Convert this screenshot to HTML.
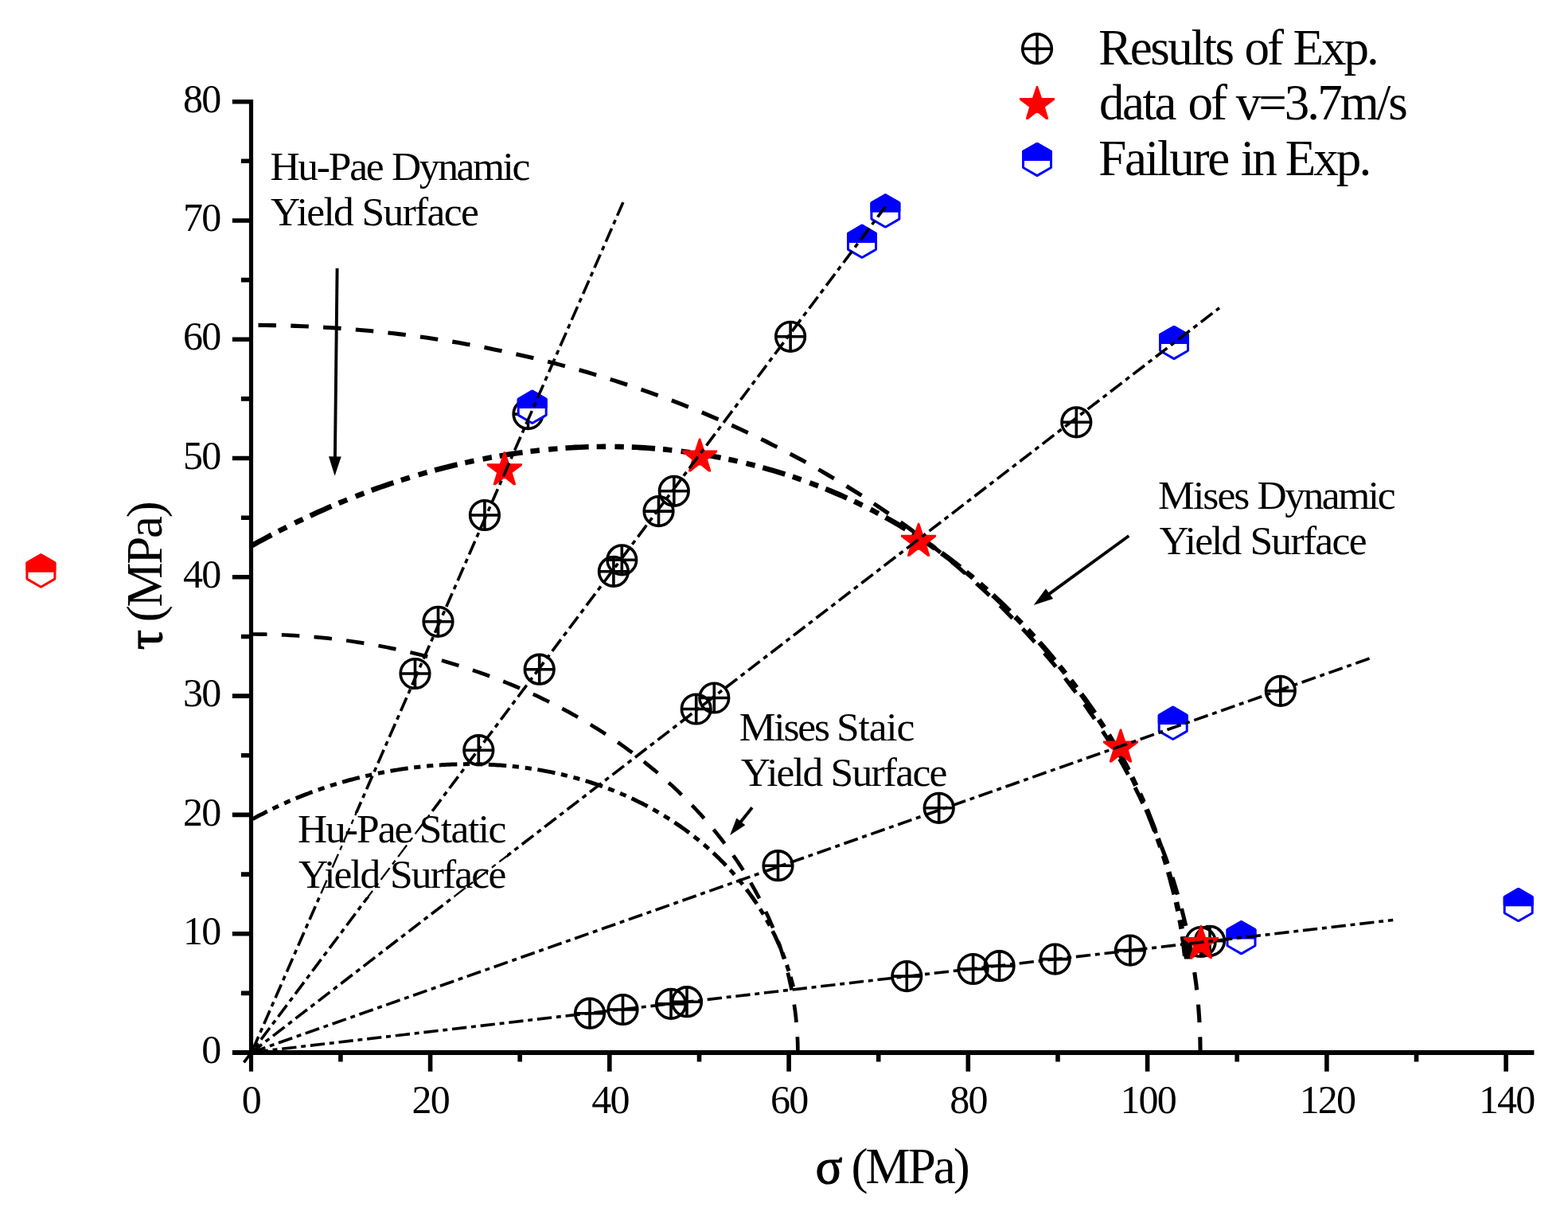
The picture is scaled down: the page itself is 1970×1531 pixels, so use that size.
<!DOCTYPE html>
<html lang="en"><head><meta charset="utf-8"><title>Yield surfaces</title>
<style>html,body{margin:0;padding:0;background:#fff;overflow:hidden}svg{display:block}text{font-family:"Liberation Serif","DejaVu Serif",serif;fill:#000}</style></head><body>
<svg width="1970" height="1531" viewBox="0 0 1970 1531" role="img" aria-label="Yield surfaces in the sigma-tau plane">
<rect width="1970" height="1531" fill="#fff"/>
<g fill="none" stroke="#000">
<path d="M315.3,408.3 L324.7,408.4 L334.0,408.5 L343.4,408.6 L352.8,408.8 L362.1,409.0 L371.5,409.4 L380.8,409.7 L390.2,410.1 L399.5,410.6 L408.9,411.2 L418.2,411.8 L427.5,412.4 L436.9,413.1 L446.2,413.9 L455.5,414.7 L464.8,415.5 L474.1,416.5 L483.4,417.5 L492.6,418.5 L501.9,419.6 L511.1,420.7 L520.4,422.0 L529.6,423.2 L538.8,424.5 L548.0,425.9 L557.2,427.3 L566.3,428.8 L575.5,430.3 L584.6,431.9 L593.7,433.6 L602.8,435.3 L611.9,437.0 L621.0,438.9 L630.0,440.7 L639.1,442.6 L648.1,444.6 L657.1,446.7 L666.0,448.7 L675.0,450.9 L683.9,453.1 L692.8,455.3 L701.7,457.6 L710.5,460.0 L719.3,462.4 L728.1,464.8 L736.9,467.3 L745.7,469.9 L754.4,472.5 L763.1,475.2 L771.7,477.9 L780.4,480.7 L789.0,483.5 L797.6,486.4 L806.1,489.3 L814.7,492.3 L823.1,495.3 L831.6,498.4 L840.0,501.5 L848.4,504.7 L856.8,507.9 L865.1,511.2 L873.4,514.5 L881.7,517.9 L889.9,521.4 L898.1,524.8 L906.3,528.4 L914.4,532.0 L922.5,535.6 L930.5,539.3 L938.5,543.0 L946.5,546.8 L954.4,550.6 L962.3,554.4 L970.1,558.4 L978.0,562.3 L985.7,566.3 L993.5,570.4 L1001.1,574.5 L1008.8,578.6 L1016.4,582.8 L1023.9,587.1 L1031.5,591.4 L1038.9,595.7 L1046.3,600.1 L1053.7,604.5 L1061.1,609.0 L1068.3,613.5 L1075.6,618.0 L1082.8,622.6 L1089.9,627.3 L1097.0,631.9 L1104.1,636.7 L1111.1,641.4 L1118.0,646.2 L1124.9,651.1 L1131.8,656.0 L1138.6,660.9 L1145.4,665.9 L1152.1,670.9 L1158.7,675.9 L1165.3,681.0 L1171.8,686.2 L1178.3,691.3 L1184.8,696.6 L1191.2,701.8 L1197.5,707.1 L1203.8,712.4 L1210.0,717.8 L1216.2,723.2 L1222.3,728.6 L1228.3,734.1 L1234.3,739.6 L1240.3,745.2 L1246.2,750.7 L1252.0,756.4 L1257.8,762.0 L1263.5,767.7 L1269.1,773.4 L1274.7,779.2 L1280.3,785.0 L1285.7,790.8 L1291.1,796.6 L1296.5,802.5 L1301.8,808.4 L1307.0,814.4 L1312.2,820.4 L1317.3,826.4 L1322.4,832.4 L1327.4,838.5 L1332.3,844.6 L1337.2,850.7 L1342.0,856.9 L1346.7,863.1 L1351.4,869.3 L1356.0,875.6 L1360.5,881.8 L1365.0,888.1 L1369.4,894.5 L1373.8,900.8 L1378.0,907.2 L1382.3,913.6 L1386.4,920.0 L1390.5,926.5 L1394.5,933.0 L1398.5,939.5 L1402.4,946.0 L1406.2,952.6 L1410.0,959.1 L1413.6,965.7 L1417.3,972.4 L1420.8,979.0 L1424.3,985.7 L1427.7,992.3 L1431.1,999.0 L1434.3,1005.8 L1437.5,1012.5 L1440.7,1019.3 L1443.7,1026.1 L1446.7,1032.8 L1449.7,1039.7 L1452.5,1046.5 L1455.3,1053.3 L1458.0,1060.2 L1460.7,1067.1 L1463.3,1074.0 L1465.8,1080.9 L1468.2,1087.8 L1470.6,1094.8 L1472.9,1101.7 L1475.1,1108.7 L1477.2,1115.7 L1479.3,1122.7 L1481.3,1129.7 L1483.3,1136.7 L1485.1,1143.8 L1486.9,1150.8 L1488.6,1157.9 L1490.3,1164.9 L1491.9,1172.0 L1493.4,1179.1 L1494.8,1186.2 L1496.2,1193.3 L1497.4,1200.4 L1498.6,1207.5 L1499.8,1214.6 L1500.8,1221.7 L1501.8,1228.9 L1502.8,1236.0 L1503.6,1243.2 L1504.4,1250.3 L1505.1,1257.5 L1505.7,1264.6 L1506.2,1271.8 L1506.7,1279.0 L1507.1,1286.1 L1507.5,1293.3 L1507.7,1300.5 L1507.9,1307.6 L1508.0,1314.8 L1508.1,1322.0" stroke-width="5.1" stroke-dasharray="22.5 18.32" stroke-dashoffset="31.6"/>
<path d="M315.3,796.5 L320.7,796.5 L326.1,796.6 L331.5,796.6 L336.9,796.8 L342.3,796.9 L347.7,797.1 L353.1,797.3 L358.4,797.5 L363.8,797.8 L369.2,798.1 L374.6,798.5 L380.0,798.8 L385.3,799.2 L390.7,799.7 L396.1,800.1 L401.4,800.6 L406.8,801.2 L412.1,801.7 L417.4,802.3 L422.8,803.0 L428.1,803.6 L433.4,804.3 L438.7,805.0 L444.0,805.8 L449.3,806.6 L454.6,807.4 L459.9,808.3 L465.2,809.2 L470.4,810.1 L475.7,811.0 L480.9,812.0 L486.2,813.0 L491.4,814.1 L496.6,815.1 L501.8,816.2 L507.0,817.4 L512.2,818.5 L517.3,819.7 L522.5,821.0 L527.6,822.2 L532.7,823.5 L537.8,824.8 L542.9,826.2 L548.0,827.6 L553.1,829.0 L558.2,830.4 L563.2,831.9 L568.2,833.4 L573.2,834.9 L578.2,836.5 L583.2,838.1 L588.2,839.7 L593.1,841.4 L598.0,843.1 L602.9,844.8 L607.8,846.5 L612.7,848.3 L617.6,850.1 L622.4,851.9 L627.2,853.8 L632.0,855.7 L636.8,857.6 L641.5,859.5 L646.3,861.5 L651.0,863.5 L655.7,865.5 L660.4,867.6 L665.0,869.7 L669.7,871.8 L674.3,873.9 L678.9,876.1 L683.4,878.3 L688.0,880.5 L692.5,882.8 L697.0,885.1 L701.5,887.4 L705.9,889.7 L710.4,892.1 L714.8,894.4 L719.1,896.9 L723.5,899.3 L727.8,901.8 L732.1,904.3 L736.4,906.8 L740.6,909.3 L744.9,911.9 L749.1,914.5 L753.2,917.1 L757.4,919.7 L761.5,922.4 L765.6,925.1 L769.6,927.8 L773.7,930.6 L777.7,933.3 L781.7,936.1 L785.6,938.9 L789.5,941.8 L793.4,944.6 L797.3,947.5 L801.1,950.4 L804.9,953.3 L808.7,956.3 L812.4,959.3 L816.1,962.3 L819.8,965.3 L823.5,968.3 L827.1,971.4 L830.7,974.5 L834.2,977.6 L837.7,980.7 L841.2,983.9 L844.7,987.0 L848.1,990.2 L851.5,993.4 L854.8,996.7 L858.2,999.9 L861.5,1003.2 L864.7,1006.5 L867.9,1009.8 L871.1,1013.1 L874.3,1016.5 L877.4,1019.8 L880.5,1023.2 L883.5,1026.6 L886.6,1030.0 L889.5,1033.5 L892.5,1036.9 L895.4,1040.4 L898.3,1043.9 L901.1,1047.4 L903.9,1051.0 L906.7,1054.5 L909.4,1058.1 L912.1,1061.6 L914.7,1065.2 L917.4,1068.8 L919.9,1072.5 L922.5,1076.1 L925.0,1079.8 L927.5,1083.4 L929.9,1087.1 L932.3,1090.8 L934.6,1094.5 L937.0,1098.3 L939.2,1102.0 L941.5,1105.7 L943.7,1109.5 L945.8,1113.3 L948.0,1117.1 L950.0,1120.9 L952.1,1124.7 L954.1,1128.6 L956.1,1132.4 L958.0,1136.2 L959.9,1140.1 L961.7,1144.0 L963.5,1147.9 L965.3,1151.8 L967.0,1155.7 L968.7,1159.6 L970.4,1163.5 L972.0,1167.5 L973.5,1171.4 L975.1,1175.4 L976.5,1179.4 L978.0,1183.3 L979.4,1187.3 L980.8,1191.3 L982.1,1195.3 L983.4,1199.3 L984.6,1203.3 L985.8,1207.4 L987.0,1211.4 L988.1,1215.4 L989.1,1219.5 L990.2,1223.5 L991.2,1227.6 L992.1,1231.7 L993.0,1235.7 L993.9,1239.8 L994.7,1243.9 L995.5,1248.0 L996.2,1252.0 L996.9,1256.1 L997.6,1260.2 L998.2,1264.3 L998.8,1268.4 L999.3,1272.5 L999.8,1276.7 L1000.2,1280.8 L1000.6,1284.9 L1001.0,1289.0 L1001.3,1293.1 L1001.6,1297.2 L1001.8,1301.4 L1002.0,1305.5 L1002.2,1309.6 L1002.3,1313.7 L1002.3,1317.9 L1002.3,1322.0" stroke-width="4.7" stroke-dasharray="22.5 18.33" stroke-dashoffset="2.3"/>
<path d="M316.7,685.1 L321.1,682.6 L325.5,680.2 L330.0,677.8 L334.5,675.3 L338.9,673.0 L343.4,670.6 L347.9,668.2 L352.4,665.9 L357.0,663.6 L361.5,661.3 L366.1,659.1 L370.6,656.8 L375.2,654.6 L379.8,652.4 L384.4,650.2 L389.0,648.1 L393.7,645.9 L398.3,643.8 L403.0,641.7 L407.6,639.7 L412.3,637.6 L417.0,635.6 L421.7,633.6 L426.4,631.6 L431.1,629.7 L435.9,627.8 L440.6,625.8 L445.4,624.0 L450.1,622.1 L454.9,620.3 L459.7,618.5 L464.5,616.7 L469.3,614.9 L474.1,613.2 L478.9,611.5 L483.7,609.8 L488.6,608.2 L493.4,606.5 L498.3,604.9 L503.1,603.3 L508.0,601.8 L512.9,600.3 L517.8,598.8 L522.7,597.3 L527.6,595.8 L532.5,594.4 L537.4,593.0 L542.3,591.7 L547.2,590.3 L552.2,589.0 L557.1,587.7 L562.1,586.5 L567.0,585.2 L572.0,584.0 L577.0,582.9 L582.0,581.7 L586.9,580.6 L591.9,579.5 L596.9,578.5 L601.9,577.4 L606.9,576.4 L611.9,575.5 L616.9,574.5 L622.0,573.6 L627.0,572.8 L632.0,571.9 L637.1,571.1 L642.1,570.3 L647.1,569.5 L652.2,568.8 L657.2,568.1 L662.3,567.4 L667.3,566.8 L672.4,566.2 L677.4,565.6 L682.5,565.1 L687.6,564.6 L692.6,564.1 L697.7,563.7 L702.8,563.3 L707.9,562.9 L713.0,562.5 L718.0,562.2 L723.1,561.9 L728.2,561.7 L733.3,561.5 L738.4,561.3 L743.5,561.2 L748.5,561.0 L753.6,561.0 L758.7,560.9 L763.8,560.9 L768.9,560.9 L774.0,561.0 L779.1,561.1 L784.2,561.2 L789.3,561.4 L794.4,561.6 L799.5,561.8 L804.5,562.1 L809.6,562.4 L814.7,562.7 L819.8,563.1 L824.9,563.5 L830.0,564.0 L835.0,564.4 L840.1,565.0 L845.2,565.5 L850.3,566.1 L855.3,566.7 L860.4,567.4 L865.4,568.1 L870.5,568.8 L875.5,569.6 L880.6,570.4 L885.6,571.2 L890.7,572.1 L895.7,573.0 L900.7,573.9 L905.7,574.9 L910.7,575.9 L915.7,576.9 L920.7,578.0 L925.7,579.1 L930.7,580.3 L935.7,581.4 L940.6,582.7 L945.6,583.9 L950.5,585.2 L955.4,586.5 L960.4,587.9 L965.3,589.3 L970.2,590.7 L975.1,592.1 L980.0,593.6 L984.8,595.1 L989.7,596.7 L994.6,598.3 L999.4,599.9 L1004.2,601.6 L1009.0,603.3 L1013.8,605.0 L1018.6,606.8 L1023.4,608.6 L1028.2,610.4 L1032.9,612.3 L1037.7,614.2 L1042.4,616.1 L1047.1,618.1 L1051.8,620.1 L1056.5,622.1 L1061.1,624.2 L1065.8,626.3 L1070.4,628.4 L1075.0,630.6 L1079.6,632.8 L1084.2,635.0 L1088.8,637.3 L1093.3,639.6 L1097.8,641.9 L1102.3,644.3 L1106.8,646.7 L1111.3,649.2 L1115.8,651.6 L1120.2,654.1 L1124.6,656.7 L1129.0,659.2 L1133.4,661.8 L1137.8,664.5 L1142.1,667.2 L1146.4,669.9 L1150.7,672.6 L1155.0,675.4 L1159.2,678.2 L1163.5,681.0 L1167.7,683.9 L1171.9,686.8 L1176.0,689.7 L1180.2,692.7 L1184.3,695.7 L1188.4,698.7 L1192.5,701.7 L1196.6,704.8 L1200.6,707.9 L1204.6,711.1 L1208.6,714.2 L1212.6,717.4 L1216.5,720.7 L1220.5,723.9 L1224.4,727.2 L1228.2,730.5 L1232.1,733.8 L1235.9,737.2 L1239.8,740.6 L1243.6,744.0 L1247.3,747.4 L1251.1,750.9 L1254.8,754.4 L1258.5,757.9 L1262.2,761.4 L1265.9,765.0 L1269.5,768.6 L1273.1,772.2 L1276.7,775.8 L1280.3,779.5 L1283.9,783.1 L1287.4,786.8 L1290.9,790.5 L1294.4,794.3 L1297.8,798.0 L1301.3,801.8 L1304.7,805.6 L1308.1,809.4 L1311.5,813.2 L1314.8,817.1 L1318.1,821.0 L1321.4,824.9 L1324.7,828.8 L1328.0,832.7 L1331.2,836.6 L1334.4,840.6 L1337.6,844.6 L1340.8,848.6 L1343.9,852.6 L1347.0,856.6 L1350.1,860.6 L1353.2,864.7 L1356.2,868.8 L1359.2,872.9 L1362.2,877.0 L1365.2,881.1 L1368.1,885.3 L1371.0,889.5 L1373.9,893.6 L1376.7,897.9 L1379.5,902.1 L1382.3,906.3 L1385.1,910.6 L1387.8,914.9 L1390.5,919.2 L1393.2,923.5 L1395.8,927.9 L1398.4,932.2 L1401.0,936.6 L1403.5,941.1 L1406.0,945.5 L1408.5,949.9 L1410.9,954.4 L1413.3,958.9 L1415.7,963.4 L1418.0,967.9 L1420.3,972.5 L1422.6,977.1 L1424.8,981.6 L1427.0,986.2 L1429.2,990.9 L1431.3,995.5 L1433.4,1000.1 L1435.5,1004.8 L1437.5,1009.5 L1439.5,1014.2 L1441.5,1018.9 L1443.4,1023.6 L1445.3,1028.4 L1447.2,1033.1 L1449.0,1037.9 L1450.8,1042.7 L1452.6,1047.5 L1454.3,1052.3 L1456.0,1057.1 L1457.7,1061.9 L1459.3,1066.8 L1460.9,1071.6 L1462.5,1076.5 L1464.0,1081.3 L1465.5,1086.2 L1467.0,1091.1 L1468.4,1096.0 L1469.8,1100.9 L1471.1,1105.8 L1472.4,1110.8 L1473.7,1115.7 L1475.0,1120.6 L1476.2,1125.6 L1477.4,1130.5 L1478.5,1135.5 L1479.6,1140.5 L1480.7,1145.5 L1481.7,1150.4 L1482.6,1155.4 L1483.6,1160.4 L1484.4,1165.4 L1485.2,1170.4 L1486.0,1175.5 L1486.7,1180.5 L1487.4,1185.5 L1488.0,1190.5 L1488.6,1195.6 L1489.1,1200.6" stroke-width="6.6" stroke-dasharray="29.3 9.95 11.45 11.32 11.45 9.95" stroke-dashoffset="1.4"/>
<path d="M317.5,1028.6 L319.8,1027.4 L322.1,1026.1 L324.5,1024.8 L326.8,1023.6 L329.2,1022.4 L331.6,1021.2 L334.0,1019.9 L336.3,1018.7 L338.7,1017.6 L341.1,1016.4 L343.6,1015.2 L346.0,1014.1 L348.4,1012.9 L350.8,1011.8 L353.3,1010.7 L355.7,1009.6 L358.2,1008.5 L360.7,1007.4 L363.1,1006.3 L365.6,1005.2 L368.1,1004.2 L370.6,1003.1 L373.1,1002.1 L375.6,1001.1 L378.1,1000.1 L380.6,999.1 L383.2,998.1 L385.7,997.2 L388.2,996.2 L390.8,995.2 L393.3,994.3 L395.9,993.4 L398.4,992.5 L401.0,991.6 L403.6,990.7 L406.2,989.8 L408.7,989.0 L411.3,988.1 L413.9,987.3 L416.5,986.4 L419.1,985.6 L421.7,984.8 L424.4,984.0 L427.0,983.2 L429.6,982.5 L432.2,981.7 L434.9,981.0 L437.5,980.2 L440.1,979.5 L442.8,978.8 L445.4,978.1 L448.1,977.4 L450.8,976.8 L453.4,976.1 L456.1,975.5 L458.8,974.8 L461.4,974.2 L464.1,973.6 L466.8,973.0 L469.5,972.4 L472.2,971.9 L474.9,971.3 L477.6,970.8 L480.3,970.2 L483.0,969.7 L485.7,969.2 L488.4,968.7 L491.1,968.2 L493.8,967.8 L496.5,967.3 L499.2,966.9 L502.0,966.4 L504.7,966.0 L507.4,965.6 L510.1,965.2 L512.9,964.8 L515.6,964.5 L518.3,964.1 L521.1,963.8 L523.8,963.5 L526.5,963.2 L529.3,962.9 L532.0,962.6 L534.8,962.3 L537.5,962.0 L540.3,961.8 L543.0,961.6 L545.8,961.3 L548.5,961.1 L551.3,960.9 L554.0,960.8 L556.8,960.6 L559.5,960.4 L562.3,960.3 L565.0,960.2 L567.8,960.1 L570.5,960.0 L573.3,959.9 L576.0,959.8 L578.8,959.7 L581.5,959.7 L584.3,959.7 L587.0,959.6 L589.8,959.6 L592.5,959.7 L595.3,959.7 L598.0,959.7 L600.8,959.8 L603.5,959.8 L606.3,959.9 L609.0,960.0 L611.8,960.1 L614.5,960.2 L617.2,960.4 L620.0,960.5 L622.7,960.7 L625.5,960.9 L628.2,961.0 L630.9,961.2 L633.7,961.5 L636.4,961.7 L639.1,961.9 L641.9,962.2 L644.6,962.5 L647.3,962.8 L650.0,963.1 L652.7,963.4 L655.5,963.7 L658.2,964.1 L660.9,964.4 L663.6,964.8 L666.3,965.2 L669.0,965.6 L671.7,966.0 L674.4,966.5 L677.1,966.9 L679.8,967.4 L682.5,967.9 L685.1,968.4 L687.8,968.9 L690.5,969.4 L693.2,969.9 L695.8,970.5 L698.5,971.0 L701.1,971.6 L703.8,972.2 L706.5,972.8 L709.1,973.5 L711.7,974.1 L714.4,974.8 L717.0,975.4 L719.6,976.1 L722.3,976.8 L724.9,977.5 L727.5,978.3 L730.1,979.0 L732.7,979.8 L735.3,980.6 L737.9,981.4 L740.5,982.2 L743.1,983.0 L745.6,983.8 L748.2,984.7 L750.8,985.5 L753.3,986.4 L755.9,987.3 L758.4,988.2 L761.0,989.2 L763.5,990.1 L766.1,991.1 L768.6,992.1 L771.1,993.0 L773.6,994.1 L776.1,995.1 L778.6,996.1 L781.1,997.2 L783.6,998.2 L786.1,999.3 L788.5,1000.4 L791.0,1001.5 L793.5,1002.7 L795.9,1003.8 L798.3,1005.0 L800.8,1006.2 L803.2,1007.4 L805.6,1008.6 L808.0,1009.8 L810.4,1011.1 L812.8,1012.3 L815.2,1013.6 L817.6,1014.9 L820.0,1016.2 L822.3,1017.5 L824.7,1018.9 L827.0,1020.2 L829.4,1021.6 L831.7,1023.0 L834.0,1024.4 L836.3,1025.8 L838.6,1027.2 L840.9,1028.7 L843.2,1030.1 L845.4,1031.6 L847.7,1033.1 L849.9,1034.6 L852.2,1036.1 L854.4,1037.6 L856.6,1039.2 L858.8,1040.8 L861.0,1042.3 L863.2,1043.9 L865.4,1045.6 L867.5,1047.2 L869.7,1048.8 L871.8,1050.5 L873.9,1052.2 L876.0,1053.8 L878.1,1055.5 L880.2,1057.3 L882.3,1059.0 L884.4,1060.7 L886.4,1062.5 L888.5,1064.3 L890.5,1066.1 L892.5,1067.9 L894.5,1069.7 L896.5,1071.5 L898.5,1073.4 L900.4,1075.2 L902.4,1077.1 L904.3,1079.0 L906.2,1080.9 L908.1,1082.8 L910.0,1084.7 L911.9,1086.7 L913.8,1088.6 L915.6,1090.6 L917.5,1092.6 L919.3,1094.6 L921.1,1096.6 L922.9,1098.7 L924.6,1100.7 L926.4,1102.8 L928.1,1104.8 L929.9,1106.9 L931.6,1109.0 L933.3,1111.1 L935.0,1113.3 L936.6,1115.4 L938.3,1117.6 L939.9,1119.7 L941.5,1121.9 L943.1,1124.1 L944.7,1126.3 L946.3,1128.5 L947.8,1130.8 L949.4,1133.0 L950.9,1135.3 L952.4,1137.6 L953.9,1139.9 L955.3,1142.2 L956.8,1144.5 L958.2,1146.8 L959.6,1149.2 L961.0,1151.5 L962.4,1153.9 L963.7,1156.3 L965.0,1158.7 L966.4,1161.1 L967.7,1163.5 L968.9,1165.9 L970.2,1168.4 L971.4,1170.9 L972.7,1173.3 L973.9,1175.8 L975.0,1178.3 L976.2,1180.8 L977.3,1183.4 L978.5,1185.9 L979.6,1188.5 L980.7,1191.0 L981.7,1193.6 L982.8,1196.2 L983.8,1198.8 L984.8,1201.4 L985.7,1204.0 L986.7,1206.7 L987.6,1209.3 L988.6,1212.0 L989.4,1214.7 L990.3,1217.4 L991.2,1220.1 L992.0,1222.8 L992.8,1225.5 L993.6,1228.3 L994.3,1231.0 L995.1,1233.8 L995.8,1236.5 L996.5,1239.3" stroke-width="5" stroke-dasharray="22.5 7.6 8.2 7.85 8.2 7.6" stroke-dashoffset="1.9"/>
<polygon points="1483.2,1176.3 1489.5,1176.3 1498.5,1204.4 1487.9,1204.4" fill="#000" stroke="none"/>
</g>
<g fill="none" stroke="#000" stroke-width="3.6">
<circle cx="521.5" cy="846.0" r="18.3"/><path d="M503.2,846.0H539.8M521.5,827.7V864.3"/>
<circle cx="550.5" cy="780.8" r="18.3"/><path d="M532.2,780.8H568.8M550.5,762.5V799.1"/>
<circle cx="608.9" cy="647.0" r="18.3"/><path d="M590.6,647.0H627.2M608.9,628.7V665.3"/>
<circle cx="663.5" cy="520.1" r="18.3"/><path d="M645.2,520.1H681.8M663.5,501.8V538.4"/>
<circle cx="601.3" cy="942.2" r="18.3"/><path d="M583.0,942.2H619.6M601.3,923.9V960.5"/>
<circle cx="677.7" cy="840.7" r="18.3"/><path d="M659.4,840.7H696.0M677.7,822.4V859.0"/>
<circle cx="770.9" cy="717.8" r="18.3"/><path d="M752.6,717.8H789.2M770.9,699.5V736.1"/>
<circle cx="781.3" cy="703.3" r="18.3"/><path d="M763.0,703.3H799.6M781.3,685.0V721.6"/>
<circle cx="827.5" cy="642.1" r="18.3"/><path d="M809.2,642.1H845.8M827.5,623.8V660.4"/>
<circle cx="846.8" cy="616.8" r="18.3"/><path d="M828.5,616.8H865.1M846.8,598.5V635.1"/>
<circle cx="993.1" cy="422.8" r="18.3"/><path d="M974.8,422.8H1011.4M993.1,404.5V441.1"/>
<circle cx="874.7" cy="890.5" r="18.3"/><path d="M856.4,890.5H893.0M874.7,872.2V908.8"/>
<circle cx="897.3" cy="876.5" r="18.3"/><path d="M879.0,876.5H915.6M897.3,858.2V894.8"/>
<circle cx="1352.3" cy="530.3" r="18.3"/><path d="M1334.0,530.3H1370.6M1352.3,512.0V548.6"/>
<circle cx="977.5" cy="1087.2" r="18.3"/><path d="M959.2,1087.2H995.8M977.5,1068.9V1105.5"/>
<circle cx="1179.7" cy="1014.8" r="18.3"/><path d="M1161.4,1014.8H1198.0M1179.7,996.5V1033.1"/>
<circle cx="1608.8" cy="867.8" r="18.3"/><path d="M1590.5,867.8H1627.1M1608.8,849.5V886.1"/>
<circle cx="741.0" cy="1272.7" r="18.3"/><path d="M722.7,1272.7H759.3M741.0,1254.4V1291.0"/>
<circle cx="782.5" cy="1268.0" r="18.3"/><path d="M764.2,1268.0H800.8M782.5,1249.7V1286.3"/>
<circle cx="843.0" cy="1260.9" r="18.3"/><path d="M824.7,1260.9H861.3M843.0,1242.6V1279.2"/>
<circle cx="863.0" cy="1258.2" r="18.3"/><path d="M844.7,1258.2H881.3M863.0,1239.9V1276.5"/>
<circle cx="1139.3" cy="1226.1" r="18.3"/><path d="M1121.0,1226.1H1157.6M1139.3,1207.8V1244.4"/>
<circle cx="1222.6" cy="1217.0" r="18.3"/><path d="M1204.3,1217.0H1240.9M1222.6,1198.7V1235.3"/>
<circle cx="1255.6" cy="1213.2" r="18.3"/><path d="M1237.3,1213.2H1273.9M1255.6,1194.9V1231.5"/>
<circle cx="1325.6" cy="1204.6" r="18.3"/><path d="M1307.3,1204.6H1343.9M1325.6,1186.3V1222.9"/>
<circle cx="1419.9" cy="1193.6" r="18.3"/><path d="M1401.6,1193.6H1438.2M1419.9,1175.3V1211.9"/>
<circle cx="1508.6" cy="1183.0" r="18.3"/><path d="M1490.3,1183.0H1526.9M1508.6,1164.7V1201.3"/>
<circle cx="1520.0" cy="1181.8" r="18.3"/><path d="M1501.7,1181.8H1538.3M1520.0,1163.5V1200.1"/>
</g>
<polygon points="668.7,491.1 686.2,501.2 686.2,521.4 668.7,531.5 651.2,521.4 651.2,501.2" fill="#fff" stroke="#00f" stroke-width="3.0" stroke-linejoin="bevel"/><polygon points="668.7,491.1 686.2,501.2 686.2,511.5 651.2,511.5 651.2,501.2" fill="#00f" stroke="#00f" stroke-width="3.0" stroke-linejoin="bevel"/>
<polygon points="1083.0,283.1 1100.5,293.2 1100.5,313.4 1083.0,323.5 1065.5,313.4 1065.5,293.2" fill="#fff" stroke="#00f" stroke-width="3.0" stroke-linejoin="bevel"/><polygon points="1083.0,283.1 1100.5,293.2 1100.5,303.5 1065.5,303.5 1065.5,293.2" fill="#00f" stroke="#00f" stroke-width="3.0" stroke-linejoin="bevel"/>
<polygon points="1112.4,244.8 1129.9,254.9 1129.9,275.1 1112.4,285.2 1094.9,275.1 1094.9,254.9" fill="#fff" stroke="#00f" stroke-width="3.0" stroke-linejoin="bevel"/><polygon points="1112.4,244.8 1129.9,254.9 1129.9,265.2 1094.9,265.2 1094.9,254.9" fill="#00f" stroke="#00f" stroke-width="3.0" stroke-linejoin="bevel"/>
<polygon points="1475.0,410.2 1492.5,420.3 1492.5,440.5 1475.0,450.6 1457.5,440.5 1457.5,420.3" fill="#fff" stroke="#00f" stroke-width="3.0" stroke-linejoin="bevel"/><polygon points="1475.0,410.2 1492.5,420.3 1492.5,430.6 1457.5,430.6 1457.5,420.3" fill="#00f" stroke="#00f" stroke-width="3.0" stroke-linejoin="bevel"/>
<polygon points="1473.7,888.1 1491.2,898.2 1491.2,918.4 1473.7,928.5 1456.2,918.4 1456.2,898.2" fill="#fff" stroke="#00f" stroke-width="3.0" stroke-linejoin="bevel"/><polygon points="1473.7,888.1 1491.2,898.2 1491.2,908.5 1456.2,908.5 1456.2,898.2" fill="#00f" stroke="#00f" stroke-width="3.0" stroke-linejoin="bevel"/>
<polygon points="1559.5,1157.5 1577.0,1167.6 1577.0,1187.8 1559.5,1197.9 1542.0,1187.8 1542.0,1167.6" fill="#fff" stroke="#00f" stroke-width="3.0" stroke-linejoin="bevel"/><polygon points="1559.5,1157.5 1577.0,1167.6 1577.0,1177.9 1542.0,1177.9 1542.0,1167.6" fill="#00f" stroke="#00f" stroke-width="3.0" stroke-linejoin="bevel"/>
<polygon points="1907.7,1116.4 1925.2,1126.5 1925.2,1146.7 1907.7,1156.8 1890.2,1146.7 1890.2,1126.5" fill="#fff" stroke="#00f" stroke-width="3.0" stroke-linejoin="bevel"/><polygon points="1907.7,1116.4 1925.2,1126.5 1925.2,1136.8 1890.2,1136.8 1890.2,1126.5" fill="#00f" stroke="#00f" stroke-width="3.0" stroke-linejoin="bevel"/>
<polygon points="51.4,696.8 68.9,706.9 68.9,727.1 51.4,737.2 33.9,727.1 33.9,706.9" fill="#fff" stroke="#f00" stroke-width="3.0" stroke-linejoin="bevel"/><polygon points="51.4,696.8 68.9,706.9 68.9,717.2 33.9,717.2 33.9,706.9" fill="#f00" stroke="#f00" stroke-width="3.0" stroke-linejoin="bevel"/>
<polygon points="634.9,567.2 639.9,582.2 655.9,582.2 655.9,584.7 643.8,593.8 647.9,607.2 647.9,609.2 645.2,609.2 635.2,601.2 632.6,601.2 622.6,609.2 619.9,609.2 619.9,607.2 624.0,593.8 611.9,584.7 611.9,582.2 627.9,582.2 632.9,567.2" fill="#f00"/>
<polygon points="880.1,550.6 885.1,565.6 901.1,565.6 901.1,568.1 889.0,577.2 893.1,590.6 893.1,592.6 890.4,592.6 880.4,584.6 877.8,584.6 867.8,592.6 865.1,592.6 865.1,590.6 869.2,577.2 857.1,568.1 857.1,565.6 873.1,565.6 878.1,550.6" fill="#f00"/>
<polygon points="1155.1,656.8 1160.1,671.8 1176.1,671.8 1176.1,674.3 1164.0,683.4 1168.1,696.8 1168.1,698.8 1165.4,698.8 1155.4,690.8 1152.8,690.8 1142.8,698.8 1140.1,698.8 1140.1,696.8 1144.2,683.4 1132.0,674.3 1132.0,671.8 1148.0,671.8 1153.1,656.8" fill="#f00"/>
<polygon points="1409.0,915.4 1414.0,930.4 1430.0,930.4 1430.0,932.9 1417.9,942.0 1422.0,955.4 1422.0,957.4 1419.3,957.4 1409.3,949.4 1406.7,949.4 1396.7,957.4 1394.0,957.4 1394.0,955.4 1398.1,942.0 1386.0,932.9 1386.0,930.4 1402.0,930.4 1407.0,915.4" fill="#f00"/>
<polygon points="1509.9,1161.9 1515.0,1177.0 1531.0,1177.0 1531.0,1179.4 1518.8,1188.5 1522.9,1201.9 1522.9,1204.0 1520.2,1204.0 1510.2,1196.0 1507.6,1196.0 1497.6,1204.0 1494.9,1204.0 1494.9,1201.9 1499.0,1188.5 1486.9,1179.4 1486.9,1177.0 1502.9,1177.0 1507.9,1161.9" fill="#f00"/>
<defs><clipPath id="tin"><rect x="372" y="1021" width="265" height="106"/></clipPath><clipPath id="tout"><path clip-rule="evenodd" d="M0,0H1970V1531H0ZM372,1021V1127H637V1021Z"/></clipPath></defs>
<g fill="none" stroke="#000" stroke-width="3.6" clip-path="url(#tout)"><line x1="316.1" y1="1321.7" x2="783.2" y2="253.3" stroke-dasharray="18.27 5.79 5.89 5.79" stroke-dashoffset="-3.2"/><line x1="306.4" y1="1334.4" x2="1112.4" y2="259.6" stroke-dasharray="18.34 5.81 5.91 5.81" stroke-dashoffset="0"/><line x1="316.1" y1="1321.7" x2="1532.0" y2="386.7" stroke-dasharray="18.34 5.81 5.91 5.81" stroke-dashoffset="2"/><line x1="316.1" y1="1321.7" x2="1721.6" y2="826.7" stroke-dasharray="18.34 5.81 5.91 5.81" stroke-dashoffset="0"/><line x1="316.1" y1="1321.7" x2="1750.2" y2="1155.5" stroke-dasharray="18.34 5.81 5.91 5.81" stroke-dashoffset="-2.5"/></g>
<g fill="none" stroke="#000" stroke-width="2.3" clip-path="url(#tin)"><line x1="316.1" y1="1321.7" x2="783.2" y2="253.3" stroke-dasharray="18.27 5.79 5.89 5.79" stroke-dashoffset="-3.2"/><line x1="306.4" y1="1334.4" x2="1112.4" y2="259.6" stroke-dasharray="18.34 5.81 5.91 5.81" stroke-dashoffset="0"/><line x1="316.1" y1="1321.7" x2="1532.0" y2="386.7" stroke-dasharray="18.34 5.81 5.91 5.81" stroke-dashoffset="2"/></g>
<line x1="423.6" y1="337.0" x2="420.9" y2="575.3" stroke="#000" stroke-width="3.9"/><polygon points="420.6,597.8 413.0,573.2 428.7,573.4" fill="#000"/>
<line x1="1418.3" y1="673.0" x2="1316.9" y2="746.9" stroke="#000" stroke-width="3.9"/><polygon points="1298.7,760.1 1313.9,739.3 1323.1,752.0" fill="#000"/>
<line x1="945.0" y1="1014.3" x2="929.6" y2="1033.5" stroke="#000" stroke-width="3.9"/><polygon points="917.1,1049.1 925.4,1027.6 936.3,1036.3" fill="#000"/>
<g stroke="#000" fill="none">
<line x1="315.5" y1="124.9" x2="315.5" y2="1345.7" stroke-width="5.2"/>
<line x1="291.9" y1="1322.00" x2="1927.4" y2="1322.00" stroke-width="6"/>
<path d="M302.9,1247.4H315.5M291.9,1172.7H315.5M302.9,1098.1H315.5M291.9,1023.4H315.5M302.9,948.8H315.5M291.9,874.1H315.5M302.9,799.5H315.5M291.9,724.8H315.5M302.9,650.2H315.5M291.9,575.5H315.5M302.9,500.9H315.5M291.9,426.3H315.5M302.9,351.6H315.5M291.9,277.0H315.5M302.9,202.3H315.5M291.9,127.7H315.5M427.9,1322.0V1333.5M540.6,1322.0V1345.7M653.2,1322.0V1333.5M765.8,1322.0V1345.7M878.5,1322.0V1333.5M991.1,1322.0V1345.7M1103.7,1322.0V1333.5M1216.3,1322.0V1345.7M1329.0,1322.0V1333.5M1441.6,1322.0V1345.7M1554.2,1322.0V1333.5M1666.9,1322.0V1345.7M1779.5,1322.0V1333.5M1892.1,1322.0V1345.7" stroke-width="5.6"/>
</g>
<g fill="none" stroke="#000" stroke-width="3.6"><circle cx="1303.0" cy="61.2" r="18.3"/><path d="M1284.7,61.2H1321.3M1303.0,42.9V79.5"/></g>
<polygon points="1304.0,107.9 1309.0,123.0 1325.0,123.0 1325.0,125.4 1312.9,134.5 1317.0,147.9 1317.0,150.0 1314.3,150.0 1304.3,142.0 1301.7,142.0 1291.7,150.0 1289.0,150.0 1289.0,147.9 1293.1,134.5 1281.0,125.4 1281.0,123.0 1297.0,123.0 1302.0,107.9" fill="#f00"/>
<polygon points="1303.0,180.2 1320.5,190.3 1320.5,210.5 1303.0,220.6 1285.5,210.5 1285.5,190.3" fill="#fff" stroke="#00f" stroke-width="3.0" stroke-linejoin="bevel"/><polygon points="1303.0,180.2 1320.5,190.3 1320.5,200.6 1285.5,200.6 1285.5,190.3" fill="#00f" stroke="#00f" stroke-width="3.0" stroke-linejoin="bevel"/>
<text x="253.30" y="1335.20" font-size="50">0</text>
<text x="230.10" y="1185.91" font-size="50" style="letter-spacing:-1.80px">10</text>
<text x="230.10" y="1036.62" font-size="50" style="letter-spacing:-1.80px">20</text>
<text x="230.10" y="887.33" font-size="50" style="letter-spacing:-1.80px">30</text>
<text x="230.10" y="738.04" font-size="50" style="letter-spacing:-1.80px">40</text>
<text x="230.10" y="588.75" font-size="50" style="letter-spacing:-1.80px">50</text>
<text x="230.10" y="439.46" font-size="50" style="letter-spacing:-1.80px">60</text>
<text x="230.10" y="290.17" font-size="50" style="letter-spacing:-1.80px">70</text>
<text x="230.10" y="140.88" font-size="50" style="letter-spacing:-1.80px">80</text>
<text x="303.80" y="1397.70" font-size="50">0</text>
<text x="517.46" y="1397.70" font-size="50" style="letter-spacing:-1.80px">20</text>
<text x="743.22" y="1397.70" font-size="50" style="letter-spacing:-1.80px">40</text>
<text x="967.98" y="1397.70" font-size="50" style="letter-spacing:-1.80px">60</text>
<text x="1193.24" y="1397.70" font-size="50" style="letter-spacing:-1.80px">80</text>
<text x="1407.40" y="1397.70" font-size="50" style="letter-spacing:-1.80px">100</text>
<text x="1632.66" y="1397.70" font-size="50" style="letter-spacing:-1.80px">120</text>
<text x="1857.92" y="1397.70" font-size="50" style="letter-spacing:-1.80px">140</text>
<text font-size="63"><tspan x="1380.20" y="80.60" style="letter-spacing:-2.45px">Results</tspan> <tspan x="1563.50" y="80.60" style="letter-spacing:-2.96px">of</tspan> <tspan x="1624.60" y="80.60" style="letter-spacing:-3.00px">Exp.</tspan></text>
<text font-size="63"><tspan x="1381.00" y="150.00" style="letter-spacing:-2.53px">data</tspan> <tspan x="1492.50" y="150.00" style="letter-spacing:-2.96px">of</tspan> <tspan x="1552.70" y="150.00" style="letter-spacing:-2.96px">v=3.7m/s</tspan></text>
<text font-size="63"><tspan x="1380.20" y="219.80" style="letter-spacing:-2.23px">Failure</tspan> <tspan x="1558.80" y="219.80" style="letter-spacing:-2.96px">in</tspan> <tspan x="1614.70" y="219.80" style="letter-spacing:-2.90px">Exp.</tspan></text>
<text font-size="63"><tspan x="1024.60" y="1485.60" stroke="#000" stroke-width="1.1">σ</tspan> <tspan x="1069.60" y="1485.60" style="letter-spacing:-2.95px">(MPa)</tspan></text>
<text font-size="63" transform="rotate(-90)"><tspan x="-816.20" y="203.00" stroke="#000" stroke-width="1.1">τ</tspan> <tspan x="-781.30" y="203.00" style="letter-spacing:-2.25px">(MPa)</tspan></text>
<text font-size="51.5"><tspan x="339.40" y="226.00" style="letter-spacing:-2.24px">Hu-Pae</tspan> <tspan x="492.10" y="226.00" style="letter-spacing:-2.43px">Dynamic</tspan></text>
<text font-size="51.5"><tspan x="340.00" y="283.20" style="letter-spacing:-1.70px">Yield</tspan> <tspan x="454.60" y="283.20" style="letter-spacing:-1.68px">Surface</tspan></text>
<text font-size="51.5"><tspan x="1455.10" y="638.50" style="letter-spacing:-1.95px">Mises</tspan> <tspan x="1579.50" y="638.50" style="letter-spacing:-2.45px">Dynamic</tspan></text>
<text font-size="51.5"><tspan x="1456.40" y="695.60" style="letter-spacing:-1.93px">Yield</tspan> <tspan x="1570.40" y="695.60" style="letter-spacing:-1.68px">Surface</tspan></text>
<text font-size="51.5"><tspan x="928.70" y="930.00" style="letter-spacing:-2.20px">Mises</tspan> <tspan x="1051.10" y="930.00" style="letter-spacing:-1.20px">Staic</tspan></text>
<text font-size="51.5"><tspan x="930.80" y="987.10" style="letter-spacing:-2.00px">Yield</tspan> <tspan x="1043.50" y="987.10" style="letter-spacing:-1.73px">Surface</tspan></text>
<text font-size="51.5"><tspan x="373.90" y="1058.30" style="letter-spacing:-1.98px">Hu-Pae</tspan> <tspan x="526.70" y="1058.30" style="letter-spacing:-1.54px">Static</tspan></text>
<text font-size="51.5"><tspan x="375.10" y="1115.40" style="letter-spacing:-2.10px">Yield</tspan> <tspan x="489.90" y="1115.40" style="letter-spacing:-1.82px">Surface</tspan></text>
</svg></body></html>
